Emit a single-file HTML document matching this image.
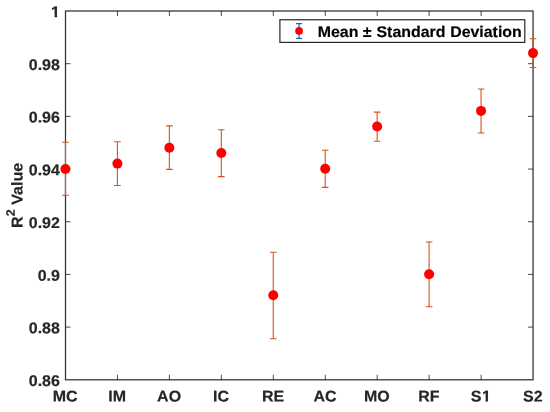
<!DOCTYPE html>
<html><head><meta charset="utf-8"><title>R2 Value</title>
<style>html,body{margin:0;padding:0;background:#fff}svg{display:block}</style></head>
<body>
<svg width="550" height="412" viewBox="0 0 550 412" font-family="Liberation Sans, sans-serif" font-weight="bold">
<rect width="550" height="412" fill="#fff"/>
<g stroke="#262626" fill="none">
<rect x="65.5" y="11.0" width="467.55" height="368.80" stroke-width="1.25" stroke="#303030"/>
<path d="M117.45 379.8v-5.0M117.45 11.0v5.0M169.40 379.8v-5.0M169.40 11.0v5.0M221.35 379.8v-5.0M221.35 11.0v5.0M273.30 379.8v-5.0M273.30 11.0v5.0M325.25 379.8v-5.0M325.25 11.0v5.0M377.20 379.8v-5.0M377.20 11.0v5.0M429.15 379.8v-5.0M429.15 11.0v5.0M481.10 379.8v-5.0M481.10 11.0v5.0M65.5 327.11h5.0M533.05 327.11h-5.0M65.5 274.43h5.0M533.05 274.43h-5.0M65.5 221.74h5.0M533.05 221.74h-5.0M65.5 169.06h5.0M533.05 169.06h-5.0M65.5 116.37h5.0M533.05 116.37h-5.0M65.5 63.69h5.0M533.05 63.69h-5.0" stroke-width="0.85"/>
</g>
<path stroke="#D95319" stroke-width="1.1" fill="none" d="M65.45 142.30V195.20M62.15 142.30h6.6M62.15 195.20h6.6"/>
<path stroke="#D95319" stroke-width="1.1" fill="none" d="M117.40 141.70V185.50M114.10 141.70h6.6M114.10 185.50h6.6"/>
<path stroke="#D95319" stroke-width="1.1" fill="none" d="M169.35 125.90V169.40M166.05 125.90h6.6M166.05 169.40h6.6"/>
<path stroke="#D95319" stroke-width="1.1" fill="none" d="M221.30 129.70V176.60M218.00 129.70h6.6M218.00 176.60h6.6"/>
<path stroke="#D95319" stroke-width="1.1" fill="none" d="M273.25 252.30V338.80M269.95 252.30h6.6M269.95 338.80h6.6"/>
<path stroke="#D95319" stroke-width="1.1" fill="none" d="M325.20 150.20V187.40M321.90 150.20h6.6M321.90 187.40h6.6"/>
<path stroke="#D95319" stroke-width="1.1" fill="none" d="M377.15 112.10V141.30M373.85 112.10h6.6M373.85 141.30h6.6"/>
<path stroke="#D95319" stroke-width="1.1" fill="none" d="M429.10 242.00V306.70M425.80 242.00h6.6M425.80 306.70h6.6"/>
<path stroke="#D95319" stroke-width="1.1" fill="none" d="M481.05 89.00V133.00M477.75 89.00h6.6M477.75 133.00h6.6"/>
<path stroke="#D95319" stroke-width="1.1" fill="none" d="M533.00 38.80V67.50M529.70 38.80h6.6M529.70 67.50h6.6"/>
<circle cx="65.45" cy="169.00" r="5.0" fill="#f00"/>
<circle cx="117.40" cy="163.60" r="5.0" fill="#f00"/>
<circle cx="169.35" cy="147.80" r="5.0" fill="#f00"/>
<circle cx="221.30" cy="153.00" r="5.0" fill="#f00"/>
<circle cx="273.25" cy="295.30" r="5.0" fill="#f00"/>
<circle cx="325.20" cy="168.70" r="5.0" fill="#f00"/>
<circle cx="377.15" cy="126.50" r="5.0" fill="#f00"/>
<circle cx="429.10" cy="274.20" r="5.0" fill="#f00"/>
<circle cx="481.05" cy="110.90" r="5.0" fill="#f00"/>
<circle cx="533.00" cy="53.10" r="5.0" fill="#f00"/>
<g font-size="16" fill="#262626" stroke="#262626" stroke-width="0.2">
<text transform="translate(59.9,386.05) rotate(0.03) scale(1,0.97)" text-anchor="end">0.86</text>
<text transform="translate(59.9,333.36) rotate(0.03) scale(1,0.97)" text-anchor="end">0.88</text>
<text transform="translate(59.9,280.68) rotate(0.03) scale(1,0.97)" text-anchor="end">0.9</text>
<text transform="translate(59.9,227.99) rotate(0.03) scale(1,0.97)" text-anchor="end">0.92</text>
<text transform="translate(59.9,175.31) rotate(0.03) scale(1,0.97)" text-anchor="end">0.94</text>
<text transform="translate(59.9,122.62) rotate(0.03) scale(1,0.97)" text-anchor="end">0.96</text>
<text transform="translate(59.9,69.94) rotate(0.03) scale(1,0.97)" text-anchor="end">0.98</text>
<clipPath id="c1"><path d="M40 0H64V14.67H57.13V24H54.54V14.67H40Z"/></clipPath>
<g clip-path="url(#c1)"><text transform="translate(59.9,17.25) rotate(0.03) scale(1,0.97)" text-anchor="end">1</text></g>
<text transform="translate(65.20,401.45) rotate(0.03) scale(1,0.97)" text-anchor="middle">MC</text>
<text transform="translate(117.15,401.45) rotate(0.03) scale(1,0.97)" text-anchor="middle">IM</text>
<text transform="translate(169.10,401.45) rotate(0.03) scale(1,0.97)" text-anchor="middle">AO</text>
<text transform="translate(221.05,401.45) rotate(0.03) scale(1,0.97)" text-anchor="middle">IC</text>
<text transform="translate(273.00,401.45) rotate(0.03) scale(1,0.97)" text-anchor="middle">RE</text>
<text transform="translate(324.95,401.45) rotate(0.03) scale(1,0.97)" text-anchor="middle">AC</text>
<text transform="translate(376.90,401.45) rotate(0.03) scale(1,0.97)" text-anchor="middle">MO</text>
<text transform="translate(428.85,401.45) rotate(0.03) scale(1,0.97)" text-anchor="middle">RF</text>
<clipPath id="c2"><path d="M460 380H500V398.87H488.07V410H485.47V398.87H481.64V410H460Z"/></clipPath>
<g clip-path="url(#c2)"><text transform="translate(480.80,401.45) rotate(0.03) scale(1,0.97)" text-anchor="middle">S<tspan dx="0.5">1</tspan></text></g>
<text transform="translate(532.75,401.45) rotate(0.03) scale(1,0.97)" text-anchor="middle">S2</text>
</g>
<text transform="translate(22.6,195.4) rotate(-90.03) scale(1,0.97)" text-anchor="middle" font-size="16.1" fill="#262626" stroke="#262626" stroke-width="0.2">R<tspan dy="-8.2" font-size="12.6">2</tspan><tspan dy="8.2"> Value</tspan></text>
<rect x="279.9" y="19.75" width="244.9" height="22.65" fill="#fff" stroke="#262626" stroke-width="1.2"/>
<path d="M299.05 23.6V38.4M296.05 23.6h6M296.05 38.4h6" stroke="#0072BD" stroke-width="1.2" fill="none"/>
<circle cx="299.05" cy="30.95" r="3.85" fill="#f00"/>
<text transform="translate(317.75,37.0) rotate(0.03) scale(1,0.97)" font-size="15.92" fill="#000" stroke="#000" stroke-width="0.18">Mean ± <tspan dx="0.5">Standard</tspan> <tspan dx="0.3">Deviation</tspan></text>
</svg>
</body></html>
